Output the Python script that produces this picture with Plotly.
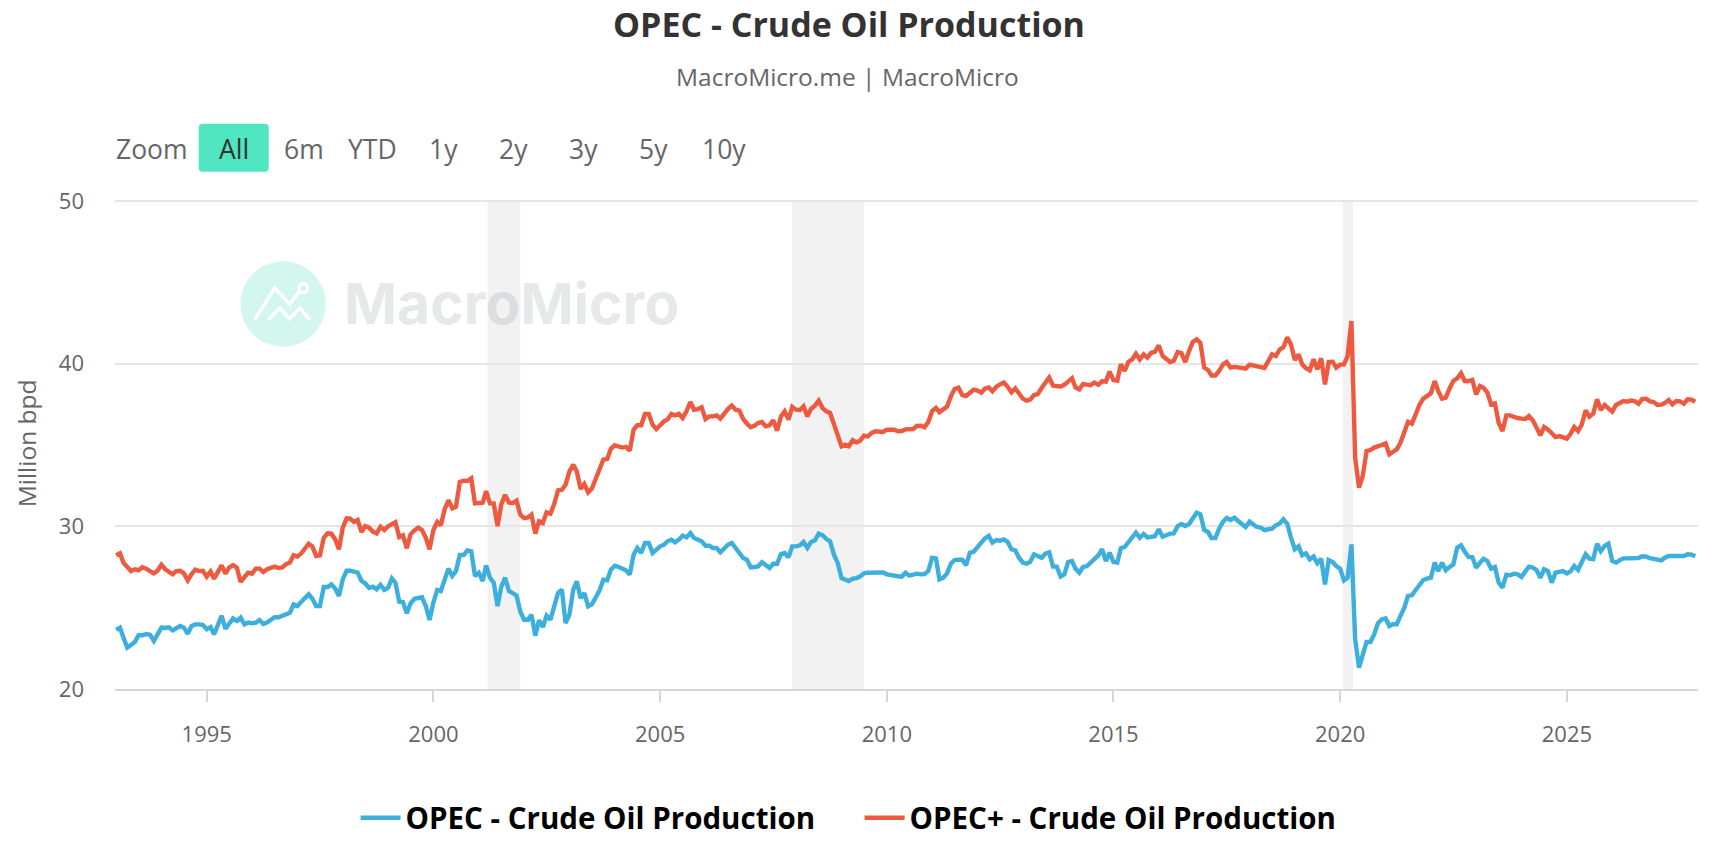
import plotly.graph_objects as go
import pandas as pd

# Monthly production, million barrels per day, from January 1993
OPEC_1993_2001 = [23.63,23.77,23.16,22.54,22.7,22.89,23.3,23.3,23.38,23.34,22.95,23.36,23.77,23.75,23.79,23.6,23.73,23.87,23.77,23.4,23.87,23.97,23.97,23.93,23.67,23.81,23.36,23.91,24.49,23.7,24.04,24.34,24.18,24.39,23.97,24.08,24.04,24.08,24.24,24.0,24.08,24.22,24.41,24.41,24.49,24.61,24.69,25.2,25.1,25.37,25.61,25.82,25.55,25.1,25.1,26.27,26.27,26.43,26.17,25.72,26.74,27.27,27.27,27.21,27.15,26.64,26.5,26.21,26.29,26.13,26.41,26.09,26.23,26.8,26.54,25.37,25.35,24.65,25.27,25.55,25.6,25.64,25.1,24.24,25.31,26.09,26.02,26.84,27.4,26.95,27.25,28.24,28.24,28.52,28.46,26.95,27.15,26.64,27.6,26.84,26.54,25.1,26.29,26.84,26.02]
OPEC_2001_2009 = [25.9,25.74,24.77,24.26,24.26,24.57,23.28,24.22,23.81,24.51,24.26,25.08,25.9,26.11,24.06,24.57,26.11,26.62,25.59,25.9,25.08,25.2,25.7,26.07,26.72,26.68,27.34,27.58,27.5,27.38,27.3,27.03,28.26,28.67,28.36,28.98,28.98,28.36,28.57,28.77,28.87,29.08,29.18,29.02,29.18,29.43,29.32,29.59,29.28,29.18,29.08,28.81,28.81,28.67,28.67,28.4,28.67,28.87,28.98,28.67,28.46,28.05,27.95,27.48,27.5,27.54,27.79,27.58,27.44,27.7,27.7,28.3,28.36,28.09,28.77,28.77,28.83,29.04,28.67,29.04,29.14,29.55,29.45,29.22,29.08,28.26,27.75,26.82,26.76,26.64,26.78,26.82,26.93,27.11,27.15,27.15,27.17,27.19,27.17,27.05,26.99,26.95]
OPEC_2010_2019 = [26.93,26.91,27.15,26.97,27.03,27.09,27.05,27.07,27.25,28.07,28.03,26.74,26.84,27.11,27.7,27.93,27.95,27.95,27.6,28.38,28.44,28.69,28.93,29.26,29.41,29.0,29.16,29.12,29.2,29.04,28.59,28.52,28.07,27.77,27.7,27.81,28.28,28.18,28.07,28.32,28.4,27.52,27.52,26.91,27.05,27.81,27.87,27.4,27.15,27.5,27.56,27.77,27.97,28.22,28.59,27.87,28.38,27.81,27.77,28.65,28.73,29.04,29.36,29.61,29.3,29.53,29.32,29.36,29.39,29.82,29.36,29.45,29.55,29.57,30.02,30.14,30.02,30.14,30.53,30.84,30.74,29.77,29.65,29.28,29.28,29.86,30.27,30.51,30.39,30.53,30.33,30.16,29.96,30.29,30.12,29.96,29.92,29.77,29.82,29.86,30.06,30.18,30.43,30.16,29.3,28.59,28.77,28.22,28.34,27.97]
OPEC_2019_2027 = [28.14,27.73,28.01,26.43,27.93,27.81,27.56,27.4,26.68,26.84,28.89,23.05,21.31,22.03,22.89,22.89,23.36,24.04,24.28,24.34,23.87,23.98,23.98,24.49,25.0,25.72,25.76,26.09,26.37,26.7,26.78,26.84,27.77,27.25,27.77,27.3,27.5,27.66,28.69,28.83,28.44,28.11,28.11,27.46,27.77,28.01,27.87,27.4,27.5,26.54,26.23,27.03,26.99,27.09,27.05,26.89,27.23,27.52,27.46,27.32,26.84,27.36,27.25,26.54,27.15,27.17,27.25,27.11,27.25,27.56,27.32,27.81,28.28,28.01,27.99,28.93,28.48,28.79,28.93,27.87,27.77,27.91,28.03,28.03,28.03,28.03,28.05,28.16,28.14,28.05,28.01,27.91,27.91,28.07,28.18,28.18,28.18,28.16,28.18,28.28,28.26,28.16]

OPEC_PLUS_1993_2001 = [28.22,28.34,27.77,27.46,27.25,27.36,27.3,27.48,27.4,27.25,27.11,27.27,27.64,27.36,27.21,27.05,27.25,27.27,27.11,26.68,27.07,27.34,27.25,27.27,26.91,27.23,26.78,27.23,27.6,27.09,27.46,27.62,27.46,26.58,26.84,27.15,27.09,27.4,27.4,27.19,27.36,27.44,27.52,27.44,27.48,27.68,27.77,28.22,28.14,28.34,28.59,28.93,28.75,28.18,28.22,29.3,29.57,29.55,29.2,28.59,29.92,30.49,30.47,30.27,30.39,29.65,30.02,29.92,29.67,29.57,29.98,29.77,30.0,30.12,30.25,29.34,29.45,28.65,29.51,29.75,29.92,29.77,29.3,28.59,29.77,30.27,30.06,31.05,31.6,31.11,31.21,32.73,32.81,32.79,32.95,31.41,31.41,31.45,32.17,31.41,31.41,30.02,31.35,31.93,31.45]
OPEC_PLUS_2001_2009 = [31.43,31.58,30.72,30.51,30.55,30.72,29.55,30.31,30.2,30.86,30.78,31.39,32.21,32.25,32.56,33.38,33.79,33.38,32.3,32.6,32.09,32.32,32.97,33.48,34.1,34.14,34.77,34.98,34.9,34.84,34.88,34.65,35.94,36.21,36.21,36.91,36.91,36.25,35.98,36.25,36.45,36.56,36.91,36.82,36.91,36.66,37.07,37.64,37.17,37.21,37.32,36.6,36.76,36.76,36.82,36.62,36.97,37.21,37.42,37.17,37.11,36.6,36.31,36.09,36.19,36.35,36.41,36.15,36.21,36.52,35.88,36.76,37.07,36.56,37.34,37.17,37.15,37.38,36.76,37.23,37.42,37.73,37.27,37.07,36.97,36.31,35.74,34.92,35.02,34.92,35.29,35.16,35.27,35.57,35.53,35.74,35.84,35.84,35.8,35.94,35.96,35.94,35.84]
OPEC_PLUS_2010_2019 = [35.86,35.96,35.96,35.98,36.17,36.19,36.09,36.41,37.08,37.28,37.02,37.22,37.36,37.99,38.44,38.52,38.07,38.01,38.21,38.4,38.34,38.21,38.46,38.54,38.3,38.58,38.72,38.84,38.58,38.24,38.48,38.13,37.85,37.73,37.79,38.07,38.13,38.5,38.88,39.15,38.64,38.6,38.6,38.7,38.88,39.11,38.54,38.42,38.74,38.7,38.68,38.84,38.7,38.92,38.9,39.51,38.99,38.95,39.96,39.55,40.1,40.26,40.61,40.26,40.57,40.37,40.67,40.73,41.12,40.47,40.32,40.1,40.18,40.71,40.65,40.1,40.77,41.34,41.5,41.28,39.76,39.61,39.27,39.27,39.55,39.96,40.1,39.76,39.8,39.76,39.72,39.7,39.94,39.9,39.84,39.8,39.74,40.16,40.57,40.47,40.87,41.01,41.62,41.18,40.22,40.57,39.96,39.72,39.59]
OPEC_PLUS_2019_2027 = [40.27,39.65,40.33,38.73,40.1,40.12,39.75,39.94,39.96,40.47,42.62,34.22,32.38,33.09,34.63,34.69,34.84,34.9,35.0,35.1,34.43,34.57,34.73,35.14,35.76,36.43,36.31,36.89,37.46,37.85,38.01,38.18,38.93,38.32,37.85,37.91,38.48,38.93,39.1,39.41,38.93,38.93,39.0,38.11,38.63,38.52,38.22,37.5,37.56,36.37,35.86,36.82,36.82,36.72,36.66,36.62,36.6,36.78,36.52,36.07,35.59,36.11,35.96,35.72,35.49,35.55,35.45,35.39,35.7,36.11,35.86,36.27,37.13,36.74,36.93,37.81,37.15,37.46,37.25,37.05,37.46,37.6,37.7,37.66,37.73,37.7,37.54,37.83,37.85,37.68,37.64,37.46,37.48,37.58,37.77,37.5,37.7,37.68,37.54,37.81,37.79,37.66]

opec = OPEC_1993_2001 + OPEC_2001_2009 + OPEC_2010_2019 + OPEC_2019_2027
opec_plus = OPEC_PLUS_1993_2001 + OPEC_PLUS_2001_2009 + OPEC_PLUS_2010_2019 + OPEC_PLUS_2019_2027
months_opec = pd.date_range("1993-01-01", periods=len(opec), freq="MS")
months_plus = pd.date_range("1993-01-01", periods=len(opec_plus), freq="MS")

recessions = [("2001-03-12", "2001-12-01"), ("2007-12-01", "2009-07-01"), ("2020-01-22", "2020-04-14")]
range_buttons = ["All", "6m", "YTD", "1y", "2y", "3y", "5y", "10y"]
button_centers = [234, 304, 373, 444, 514, 584, 654, 724]

W, H = 1724, 843
PAD = 2  # extra headroom so the 50 gridline is kept
L, R, T, B = 115.3, 1698, 201.3 - PAD, 689.5
UNIT = (689.5 - 201.3) / 30
FONT = "Open Sans, Noto Sans, sans-serif"


def px(x):
    return (x - L) / (R - L)


def py(y):
    return (B - y) / (B - T)


def label(x, y, text, size, color, weight=400, family=FONT):
    return dict(xref="paper", yref="paper", x=px(x), y=py(y), text=text, showarrow=False,
                xanchor="center", yanchor="middle",
                font=dict(family=family, size=size, color=color, weight=weight))


def polyline(points, width=3.5):
    d = "M " + " L ".join(f"{px(x)} {py(y)}" for x, y in points)
    return dict(type="path", xref="paper", yref="paper", layer="below", path=d,
                line=dict(color="white", width=width), fillcolor="rgba(0,0,0,0)")


fig = go.Figure()
fig.add_trace(go.Scatter(x=months_opec, y=opec, mode="lines", name="OPEC - Crude Oil Production",
                         line=dict(color="#3DAFDC", width=4.4)))
fig.add_trace(go.Scatter(x=months_plus, y=opec_plus, mode="lines", name="OPEC+ - Crude Oil Production",
                         line=dict(color="#EE5A3F", width=4.4)))

shapes = [dict(type="rect", xref="x", yref="y", x0=a, x1=b, y0=20, y1=50, layer="below",
               fillcolor="#F2F2F2", line=dict(width=0)) for a, b in recessions]

# Active range button
bx0, bx1, by0, by1, rad = 199, 269, 124, 172, 4
shapes.append(dict(type="path", xref="paper", yref="paper", layer="above", fillcolor="#50E6C2", line=dict(width=0),
                   path=(f"M {px(bx0+rad)} {py(by0)} L {px(bx1-rad)} {py(by0)} Q {px(bx1)} {py(by0)} {px(bx1)} {py(by0+rad)} "
                         f"L {px(bx1)} {py(by1-rad)} Q {px(bx1)} {py(by1)} {px(bx1-rad)} {py(by1)} "
                         f"L {px(bx0+rad)} {py(by1)} Q {px(bx0)} {py(by1)} {px(bx0)} {py(by1-rad)} "
                         f"L {px(bx0)} {py(by0+rad)} Q {px(bx0)} {py(by0)} {px(bx0+rad)} {py(by0)} Z")))

# Watermark badge and its chart glyph
cx, cy, r = 283.3, 304.3, 42.7
shapes.append(dict(type="circle", xref="paper", yref="paper", layer="below", fillcolor="#D3F7EF", line=dict(width=0),
                   x0=px(cx-r), x1=px(cx+r), y0=py(cy+r), y1=py(cy-r)))
shapes.append(polyline([(255, 320), (275, 288.5), (290, 304.5), (301, 290)]))
shapes.append(polyline([(268.5, 320), (280, 308.5), (290, 319), (300, 308.5), (310, 320)]))
shapes.append(dict(type="circle", xref="paper", yref="paper", layer="below", fillcolor="rgba(0,0,0,0)",
                   line=dict(color="white", width=3),
                   x0=px(299), x1=px(308), y0=py(293), y1=py(284)))

annotations = [
    label(849, 24, "OPEC - Crude Oil Production", 34, "#333333", 700),
    label(848, 77, "MacroMicro.me | MacroMicro", 24.5, "#666666"),
    label(152, 149, "Zoom", 26.5, "#666666"),
    label(27, 444, "Million bpd", 24.5, "#666666"),
    label(512, 304, "MacroMicro", 57, "rgba(100,110,120,0.16)", 700, "Inter, Open Sans, sans-serif"),
]
annotations[3]["textangle"] = -90
for name, c in zip(range_buttons, button_centers):
    annotations.append(label(c, 149, name, 26.5, "#333333" if name == "All" else "#666666"))

fig.update_layout(
    width=W, height=H, autosize=False,
    margin=dict(l=L, r=W - R, t=T, b=H - B),
    paper_bgcolor="white", plot_bgcolor="white",
    font=dict(family=FONT),
    shapes=shapes, annotations=annotations,
    showlegend=True,
    legend=dict(orientation="h", xref="container", yref="container",
                x=355.6 / W, xanchor="left", y=1 - 818 / H, yanchor="middle",
                itemwidth=40, entrywidth=449, entrywidthmode="pixels",
                font=dict(family=FONT, size=29.5, color="#000000", weight=700),
                itemclick=False, itemdoubleclick=False),
    xaxis=dict(range=["1992-12-23", "2027-11-23"], tick0="1995-01-01", dtick="M60", tickformat="%Y",
               showgrid=False, showline=True, linecolor="#D8D8D8", linewidth=2,
               ticks="outside", ticklen=11, tickwidth=2, tickcolor="#D8D8D8", ticklabelstandoff=14,
               tickfont=dict(size=22, color="#666666", family=FONT)),
    yaxis=dict(range=[20, 50 + PAD / UNIT], tickvals=[20, 30, 40, 50], showgrid=True, gridcolor="#E6E6E6", gridwidth=2,
               zeroline=False, ticks="", ticklabelstandoff=30,
               tickfont=dict(size=22, color="#666666", family=FONT)),
)

fig.write_html("out.html")
